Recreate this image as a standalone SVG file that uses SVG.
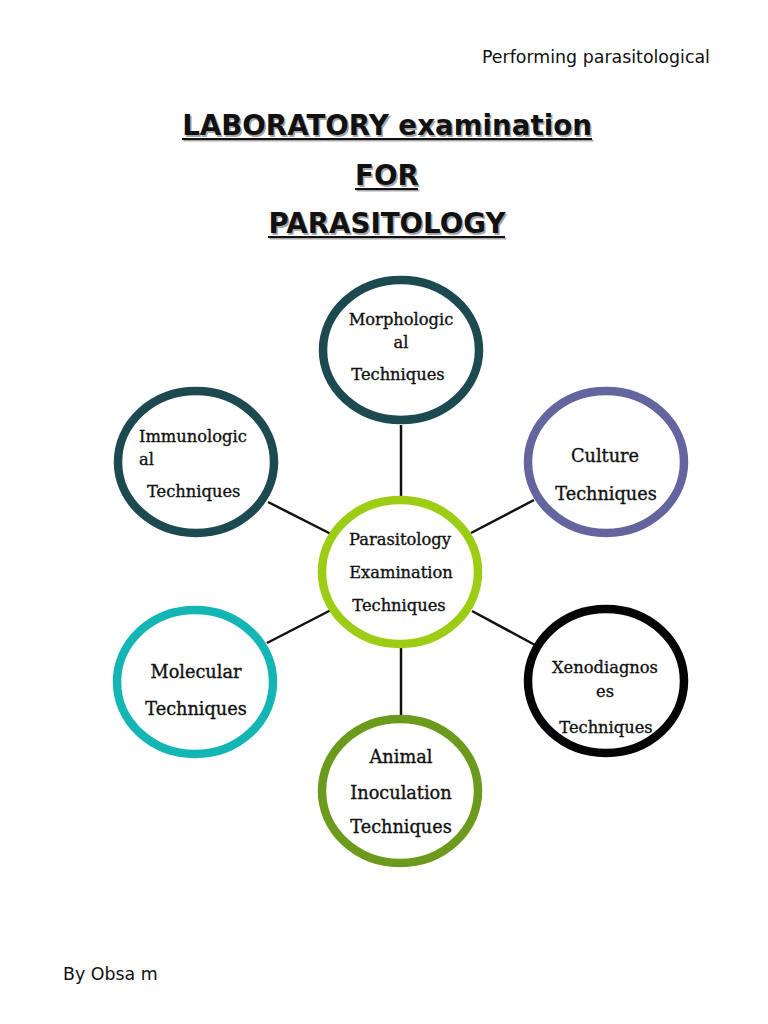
<svg xmlns="http://www.w3.org/2000/svg" width="768" height="1024" viewBox="0 0 768 1024">
<style>
.bg{fill:#ffffff}
.node{fill:#ffffff;stroke-width:8.5}
.lbl{font-family:"DejaVu Serif","Liberation Serif",serif;fill:#111111;stroke:#111111;stroke-width:0.35;text-anchor:middle}
.s{font-size:16.3px}
.l{font-size:17.7px}
.conn{stroke:#111111;stroke-width:2.5;fill:none}
.title{font-family:"DejaVu Sans","Liberation Sans",sans-serif;font-weight:bold;font-size:27.7px;text-anchor:middle}
.plain{font-family:"DejaVu Sans","Liberation Sans",sans-serif;font-size:17.4px;fill:#111111}
</style>
<rect class="bg" x="0" y="0" width="768" height="1024"/>
<text class="plain" x="482" y="63">Performing parasitological</text>
<g id="title">
  <g fill="#a8a8a8">
    <text class="title" x="388.5" y="136.5">LABORATORY examination</text>
    <rect x="183.5" y="139.5" width="410" height="2"/>
    <text class="title" x="388.5" y="186.5">FOR</text>
    <rect x="356.5" y="189.5" width="63" height="2"/>
    <text class="title" x="388.5" y="234.5">PARASITOLOGY</text>
    <rect x="269.5" y="237.5" width="237" height="2"/>
  </g>
  <g fill="#111111">
    <text class="title" x="387" y="135">LABORATORY examination</text>
    <rect x="182" y="138" width="410" height="2"/>
    <text class="title" x="387" y="185">FOR</text>
    <rect x="355" y="188" width="63" height="2"/>
    <text class="title" x="387" y="233">PARASITOLOGY</text>
    <rect x="268" y="236" width="237" height="2"/>
  </g>
</g>
<g id="connectors">
  <line class="conn" x1="401" y1="425" x2="401" y2="499"/>
  <line class="conn" x1="401" y1="646" x2="401" y2="717"/>
  <line class="conn" x1="268" y1="502" x2="331" y2="534"/>
  <line class="conn" x1="534" y1="500" x2="471" y2="533"/>
  <line class="conn" x1="267" y1="643" x2="331" y2="610"/>
  <line class="conn" x1="535" y1="645" x2="472" y2="611"/>
</g>
<g id="center">
  <ellipse class="node" cx="400" cy="572" rx="78" ry="72" stroke="#9ccc14"/>
  <text class="lbl s" x="400" y="545">Parasitology</text>
  <text class="lbl s" x="401" y="578">Examination</text>
  <text class="lbl s" x="399" y="611">Techniques</text>
</g>
<g id="morphological">
  <ellipse class="node" cx="401" cy="350" rx="78" ry="70" stroke="#1d4a50"/>
  <text class="lbl s" x="401" y="325">Morphologic</text>
  <text class="lbl s" x="401" y="348">al</text>
  <text class="lbl s" x="398" y="380">Techniques</text>
</g>
<g id="immunological">
  <ellipse class="node" cx="196" cy="462" rx="78" ry="71" stroke="#1d4a50"/>
  <text class="lbl s" x="139" y="442" style="text-anchor:start">Immunologic</text>
  <text class="lbl s" x="139" y="465" style="text-anchor:start">al</text>
  <text class="lbl s" x="147" y="497" style="text-anchor:start">Techniques</text>
</g>
<g id="culture">
  <ellipse class="node" cx="606" cy="462" rx="78" ry="71" stroke="#64659f"/>
  <text class="lbl l" x="605" y="462">Culture</text>
  <text class="lbl l" x="606" y="500">Techniques</text>
</g>
<g id="molecular">
  <ellipse class="node" cx="195" cy="682" rx="78" ry="72" stroke="#14b5b5"/>
  <text class="lbl l" x="196" y="678">Molecular</text>
  <text class="lbl l" x="196" y="715">Techniques</text>
</g>
<g id="xenodiagnoses">
  <ellipse class="node" cx="606" cy="681" rx="78" ry="72" stroke="#050505"/>
  <text class="lbl s" x="605" y="673">Xenodiagnos</text>
  <text class="lbl s" x="605" y="697">es</text>
  <text class="lbl s" x="606" y="733">Techniques</text>
</g>
<g id="animal">
  <ellipse class="node" cx="400" cy="791" rx="78" ry="72" stroke="#6b9a1c"/>
  <text class="lbl l" x="401" y="763">Animal</text>
  <text class="lbl l" x="401" y="799">Inoculation</text>
  <text class="lbl l" x="401" y="833">Techniques</text>
</g>
<text class="plain" x="63" y="980">By Obsa m</text>
</svg>
